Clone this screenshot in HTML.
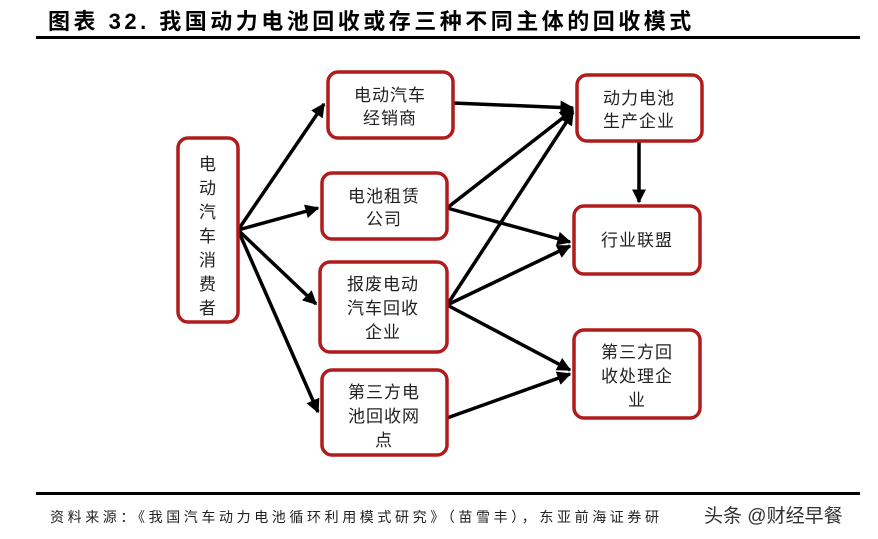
<!DOCTYPE html>
<html><head><meta charset="utf-8"><style>
body{margin:0;background:#fff;width:878px;height:539px;overflow:hidden}
svg{display:block}
text{font-family:"Liberation Sans","Noto Sans CJK SC",sans-serif}
.b{fill:#fff;stroke:#b01c1c;stroke-width:3.5}
.t{font-size:17px;fill:#222;text-anchor:middle;letter-spacing:1px}
.l{stroke:#000;stroke-width:3.5;fill:none}
</style></head><body>
<svg width="878" height="539" viewBox="0 0 878 539">
<defs><marker id="a" viewBox="0 0 10 10" refX="9" refY="5" markerWidth="4" markerHeight="4" orient="auto"><path d="M0,0L10,5L0,10z" fill="#000"/></marker></defs>
<text x="48" y="29" font-size="22" font-weight="bold" fill="#000" letter-spacing="3.5">图表 32. 我国动力电池回收或存三种不同主体的回收模式</text>
<rect x="36" y="36" width="824" height="3" fill="#000"/>
<rect x="36" y="492" width="824" height="3" fill="#000"/>
<text x="50" y="522" font-size="14" fill="#222" letter-spacing="3.6">资料来源：《我国汽车动力电池循环利用模式研究》（苗雪丰），东亚前海证券研</text>
<text x="704" y="522" font-size="19" fill="#333">头条 @财经早餐</text>
<g class="l" marker-end="url(#a)">
<line x1="238" y1="230" x2="324" y2="104"/>
<line x1="238" y1="230" x2="318" y2="208"/>
<line x1="238" y1="230" x2="316" y2="304"/>
<line x1="238" y1="230" x2="318" y2="412"/>
<line x1="453" y1="103" x2="573" y2="108"/>
<line x1="447" y1="208" x2="573" y2="110"/>
<line x1="447" y1="208" x2="570" y2="242"/>
<line x1="447" y1="305" x2="573" y2="112"/>
<line x1="447" y1="305" x2="570" y2="246"/>
<line x1="447" y1="305" x2="570" y2="370"/>
<line x1="447" y1="418" x2="570" y2="374"/>
<line x1="639" y1="141" x2="639" y2="202"/>
</g>
<rect class="b" x="178" y="138" width="60" height="184" rx="10"/>
<rect class="b" x="328" y="72" width="125" height="66" rx="10"/>
<rect class="b" x="322" y="173" width="125" height="66" rx="10"/>
<rect class="b" x="320" y="262" width="127" height="90" rx="10"/>
<rect class="b" x="322" y="370" width="125" height="85" rx="10"/>
<rect class="b" x="577" y="75" width="125" height="66" rx="10"/>
<rect class="b" x="574" y="206" width="126" height="68" rx="10"/>
<rect class="b" x="574" y="330" width="126" height="88" rx="10"/>
<g class="t">
<text x="208" y="170">电</text><text x="208" y="194">动</text><text x="208" y="218">汽</text><text x="208" y="242">车</text><text x="208" y="266">消</text><text x="208" y="290">费</text><text x="208" y="314">者</text>
<text x="390" y="101">电动汽车</text><text x="390" y="124">经销商</text>
<text x="384" y="202">电池租赁</text><text x="384" y="225">公司</text>
<text x="383" y="290">报废电动</text><text x="383" y="314">汽车回收</text><text x="383" y="338">企业</text>
<text x="384" y="398">第三方电</text><text x="384" y="422">池回收网</text><text x="384" y="446">点</text>
<text x="639" y="104">动力电池</text><text x="639" y="127">生产企业</text>
<text x="637" y="246">行业联盟</text>
<text x="637" y="358">第三方回</text><text x="637" y="382">收处理企</text><text x="637" y="406">业</text>
</g>
</svg>
</body></html>
